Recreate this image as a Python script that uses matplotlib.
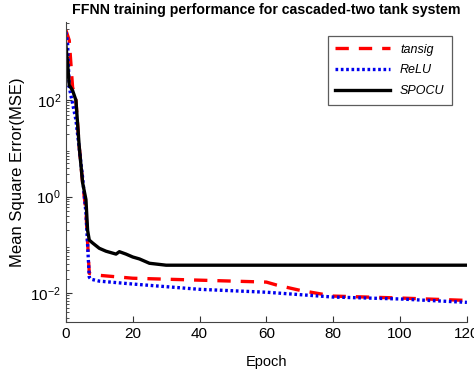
import numpy as np
import matplotlib
matplotlib.use("Agg")
import matplotlib.pyplot as plt

# -------------------------------------------------
# DATA (log10 MSE)
# -------------------------------------------------

tansig_epoch = [0, 1, 2, 3, 4, 5, 6, 7, 10, 20, 40, 60, 63, 70, 75, 80, 100, 120]
tansig_log = [3.45, 3.24, 2.27, 2.0, 1.03, 0.29, -0.3, -1.59, -1.63, -1.69,
              -1.73, -1.77, -1.83, -1.94, -2.0, -2.06, -2.1, -2.15]

relu_epoch = [0, 0.5, 1, 3, 5, 6, 7, 7.5, 10, 20, 40, 60, 80, 100, 120]
relu_log = [3.41, 3.2, 2.27, 1.59, 0.4, -0.34, -1.67, -1.71, -1.75, -1.81,
            -1.92, -1.98, -2.08, -2.12, -2.19]

spocu_epoch = [0, 0.5, 1, 2, 3, 4, 5, 6, 6.5, 7, 8, 10, 12, 14, 15, 16, 18,
               20, 22, 25, 30, 60, 90, 120]
spocu_log = [3.14, 2.77, 2.31, 2.2, 2.0, 1.03, 0.29, -0.06, -0.7, -0.9, -0.96,
             -1.07, -1.13, -1.17, -1.19, -1.14, -1.19, -1.25, -1.29, -1.38,
             -1.42, -1.42, -1.42, -1.42]

# -------------------------------------------------
# STYLE
# -------------------------------------------------

plt.rcParams["font.family"] = ["Liberation Sans", "DejaVu Sans"]
plt.rcParams["mathtext.fontset"] = "custom"
plt.rcParams["mathtext.rm"] = "Liberation Sans"
plt.rcParams["mathtext.it"] = "Liberation Sans:italic"

fig = plt.figure(figsize=(4.74, 3.72), dpi=100)
ax = fig.add_axes([0.139, 0.134, 0.846, 0.807])

ax.plot(tansig_epoch, 10 ** np.array(tansig_log), color="#ff0000",
        linestyle=(0, (4, 3)), linewidth=2.4, label="tansig")
ax.plot(relu_epoch, 10 ** np.array(relu_log), color="#0000ee",
        linestyle=(0, (0.8, 0.8)), linewidth=2.4, label="ReLU")
ax.plot(spocu_epoch, 10 ** np.array(spocu_log), color="black",
        linewidth=2.4, label="SPOCU")

ax.set_yscale("log")
ax.set_xlim(0, 120)
ax.set_ylim(10 ** -2.6, 10 ** 3.62)
ax.set_yticks([1e-2, 1e0, 1e2])
ax.set_xticks([0, 20, 40, 60, 80, 100, 120])

ax.spines["top"].set_visible(False)
ax.spines["right"].set_visible(False)
for s in ["left", "bottom"]:
    ax.spines[s].set_color("#444444")

ax.tick_params(which="both", direction="in", labelsize=11, colors="#333333")
ax.tick_params(which="major", length=4)
ax.tick_params(which="minor", length=2)
for lbl in ax.get_xticklabels() + ax.get_yticklabels():
    lbl.set_color("black")

ax.set_title("FFNN training performance for cascaded-two tank system",
             fontsize=10.2, fontweight="bold", pad=6)
ax.set_xlabel("Epoch", fontsize=10.5, labelpad=10)
ax.set_ylabel("Mean Square Error(MSE)", fontsize=12)

leg = ax.legend(loc="upper right", bbox_to_anchor=(0.963, 0.953),
                fancybox=False, edgecolor="#333333", handlelength=4.4,
                prop={"style": "italic", "size": 9}, labelspacing=0.7,
                borderpad=0.6, borderaxespad=0)
leg.get_frame().set_linewidth(0.9)

plt.savefig("out.png", dpi=100)
